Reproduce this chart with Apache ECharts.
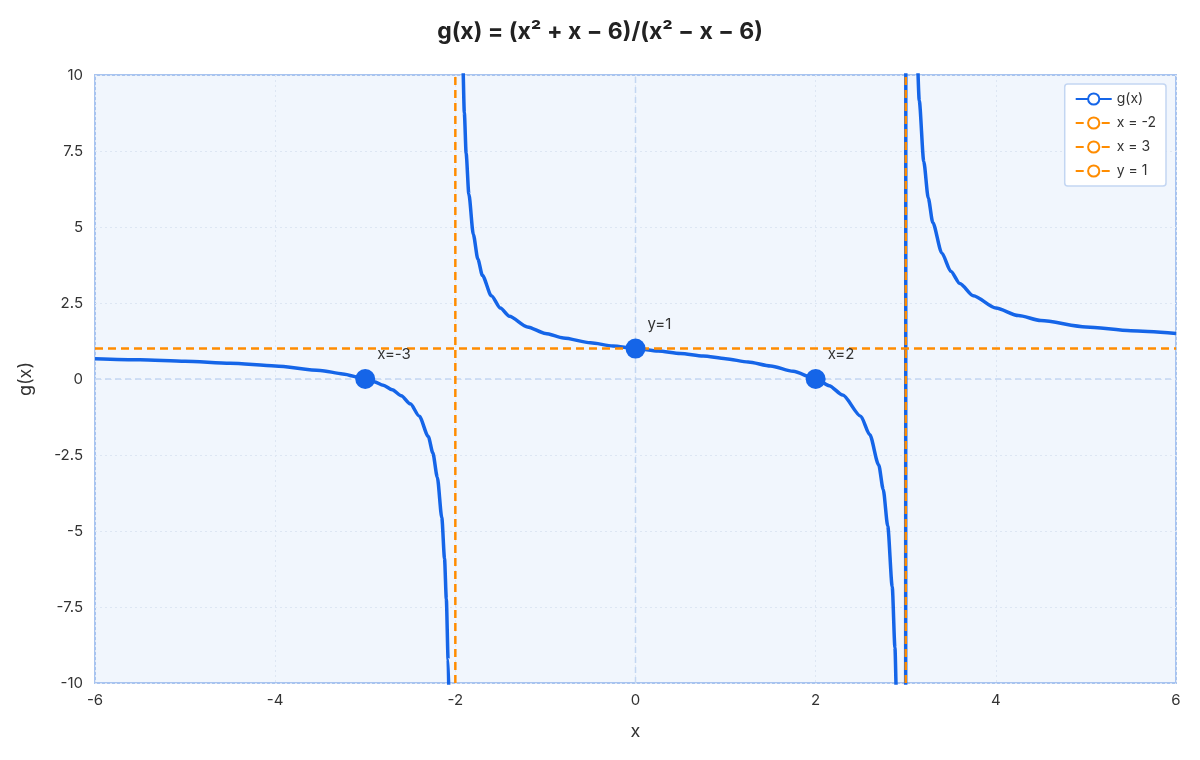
<!DOCTYPE html>
<html><head><meta charset="utf-8">
<script src="https://cdn.jsdelivr.net/npm/echarts@6/dist/echarts.min.js"></script>
<style>html,body{margin:0;padding:0;background:#fff}#c{width:1200px;height:760px}</style>
</head><body><div id="c"></div>
<script>
// Curve points (x, g(x)); null = break
const curveX = [-6,-5.5,-5,-4.5,-4,-3.5,-3.25,-3,-2.9,-2.8,-2.7,-2.6,-2.5,-2.4,-2.3,-2.25,-2.2,-2.15,-2.12,-2.1,-2.08,-2.07,null,
 -1.95,-1.93,-1.92,-1.9,-1.88,-1.85,-1.8,-1.75,-1.7,-1.6,-1.5,-1.4,-1.2,-1,-0.8,-0.5,-0.25,0,0.25,0.5,0.75,1,1.25,1.5,1.75,2,2.15,2.3,2.5,2.6,2.7,2.75,2.8,2.85,2.88,2.9,2.99,
 3.01,3.1,3.12,3.15,3.2,3.25,3.3,3.4,3.5,3.6,3.75,4,4.25,4.5,5,5.5,6];
const curveY = [0.667,0.630,0.583,0.52,0.429,0.282,0.168,0,-0.092,-0.207,-0.353,-0.548,-0.818,-1.222,-1.893,-2.429,-3.23,-4.566,-5.901,-7.235,-9.236,-10.66,null,
 16.76,12.19,10.756,8.755,7.421,6.086,4.75,3.947,3.411,2.739,2.333,2.061,1.714,1.5,1.351,1.19,1.088,1,0.919,0.84,0.758,0.667,0.56,0.429,0.253,0,-0.219,-0.528,-1.222,-1.826,-2.83,-3.632,-4.833,-6.835,-8.836,-10.84,-118.8,
 121.2,13.16,11.156,9.155,7.154,5.952,5.151,4.148,3.545,3.143,2.739,2.333,2.088,1.923,1.714,1.587,1.5];
const keyX = [-3,0,2];
const keyY = [0,1,0];
const keyLabels = ['x=-3','y=1','x=2'];
const asymptoteNames = ['x = -2','x = 3','y = 1'];
const vAsym = [-2,3];
const hAsym = [1];
const xTicks = [-6,6,2];
const yTicks = [-10,10,2.5];

const blue='#1565e8', orange='#ff8c00', font='Inter, "Noto Sans", sans-serif';
const curve = curveX.map((x,i)=> x===null ? [null,null] : [x,curveY[i]]);
const dash = {color:orange,width:2.5,type:[8,5]};
const series = [
 {name:'g(x)',type:'line',data:curve,showSymbol:false,clip:true,connectNulls:false,smooth:0.25,smoothMonotone:'x',
  lineStyle:{color:blue,width:3.5},itemStyle:{color:blue},z:3},
 {name:asymptoteNames[0],type:'line',data:[[vAsym[0],-10],[vAsym[0],10]],showSymbol:false,lineStyle:dash,itemStyle:{color:orange},z:4},
 {name:asymptoteNames[1],type:'line',data:[[vAsym[1],-10],[vAsym[1],10]],showSymbol:false,lineStyle:dash,itemStyle:{color:orange},z:4},
 {name:asymptoteNames[2],type:'line',data:[[-6,hAsym[0]],[6,hAsym[0]]],showSymbol:false,lineStyle:dash,itemStyle:{color:orange},z:4},
 {type:'scatter',data:keyX.map((x,i)=>({value:[x,keyY[i]],label:{formatter:keyLabels[i]}})),symbolSize:20,
  itemStyle:{color:blue,opacity:1},z:5,
  label:{show:true,position:[22,-22],color:'#333',fontSize:15,fontFamily:font}},
 {type:'line',data:[[0,-10],[0,10]],showSymbol:false,silent:true,lineStyle:{color:'#c3d6f2',width:1.5,type:[6,4]},z:1},
 {type:'line',data:[[-6,0],[6,0]],showSymbol:false,silent:true,lineStyle:{color:'#c3d6f2',width:1.5,type:[6,4]},z:1}
];
const chart = echarts.init(document.getElementById('c'));
chart.setOption({
 animation:false,
 title:{text:'g(x) = (x² + x − 6)/(x² − x − 6)',left:'center',top:16,
  textStyle:{fontSize:23,fontWeight:'bold',color:'#222',fontFamily:font}},
 grid:{left:95,right:24,top:75,bottom:77,show:true,backgroundColor:'#f1f6fd',borderColor:'#a8c4f0',borderWidth:2},
 legend:{data:['g(x)'].concat(asymptoteNames),orient:'vertical',right:34,top:84,
  backgroundColor:'#fff',borderColor:'#c3d6f2',borderWidth:1.5,borderRadius:3,padding:[8,10],
  itemWidth:36,itemHeight:14,itemGap:10,
  textStyle:{fontSize:14,color:'#333',fontFamily:font}},
 xAxis:{type:'value',min:xTicks[0],max:xTicks[1],interval:xTicks[2],name:'x',nameLocation:'middle',nameGap:40,
  nameTextStyle:{fontSize:18,color:'#333',fontFamily:font},
  axisLine:{show:false},axisTick:{show:false},
  axisLabel:{fontSize:15,color:'#333',fontFamily:font,margin:10},
  splitLine:{lineStyle:{color:'#dde6f3',type:[2,3]}}},
 yAxis:{type:'value',min:yTicks[0],max:yTicks[1],interval:yTicks[2],name:'g(x)',nameLocation:'middle',nameGap:60,
  nameTextStyle:{fontSize:18,color:'#333',fontFamily:font},
  axisLine:{show:false},axisTick:{show:false},
  axisLabel:{fontSize:15,color:'#333',fontFamily:font,margin:12},
  splitLine:{lineStyle:{color:'#dde6f3',type:[2,3]}}},
 series
});
</script></body></html>
